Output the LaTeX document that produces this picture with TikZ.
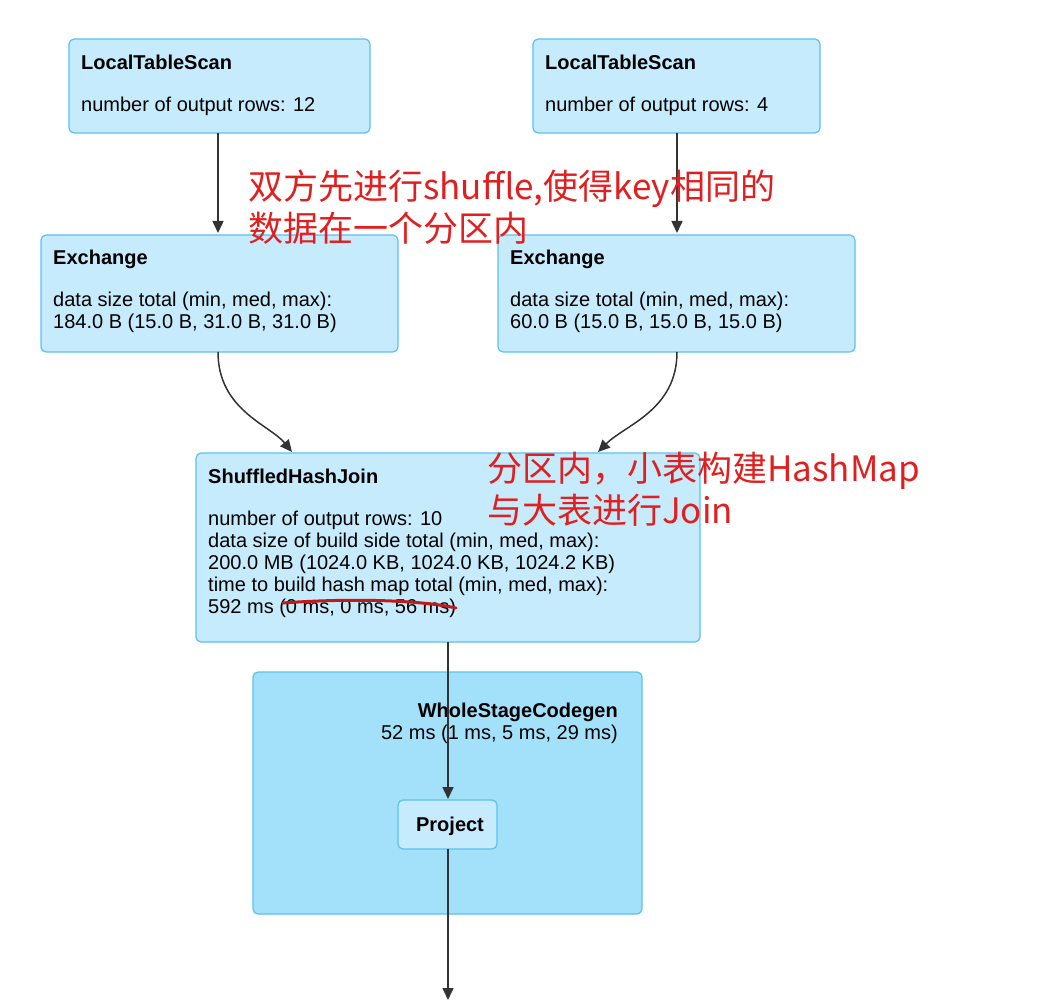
\documentclass[tikz,border=0pt]{standalone}
\usepackage{fontspec}
\setmainfont{Liberation Sans}
\newfontfamily\cjk{Noto Sans CJK SC}
\usetikzlibrary{arrows.meta}
\definecolor{boxfill}{HTML}{C5EBFC}
\definecolor{boxline}{HTML}{5BC1F2}
\definecolor{clusterfill}{HTML}{A3E0FA}
\definecolor{annot}{HTML}{E02020}
\tikzset{
  x=1pt,y=-1pt,
  opbox/.style={draw=boxline,fill=boxfill,rounded corners=5pt,line width=1.2pt},
  conn/.style={draw=black!80,line width=1.5pt,-{Triangle[length=12pt,width=11pt]}},
  txt/.style={anchor=north west,inner sep=0pt,align=left,font=\fontsize{20}{22}\selectfont},
  note/.style={anchor=west,inner sep=0pt,text=annot,align=left,font=\cjk\fontsize{35}{42}\selectfont}
}
\begin{document}
\begin{tikzpicture}
\useasboundingbox (0,0) rectangle (1042,1000);
% cluster
\draw[draw=boxline,fill=clusterfill,rounded corners=5pt,line width=1.2pt] (253,672) rectangle (642,914);
\node[anchor=north east,inner sep=0pt,align=right,font=\fontsize{20}{22}\selectfont] (wsc) at (618,703) {\textbf{WholeStageCodegen}\\52 ms (1 ms, 5 ms, 29 ms)};
% boxes
\draw[opbox] (69,39) rectangle (370,133); \coordinate (l1t) at (218,133);
\node[txt] (l1) at (81,55) {\textbf{LocalTableScan}\\[20pt]number of output rows: 12};
\draw[opbox] (533,39) rectangle (820,133); \coordinate (l2t) at (677,133);
\node[txt] (l2) at (545,55) {\textbf{LocalTableScan}\\[20pt]number of output rows: 4};
\draw[opbox] (41,235) rectangle (398,352);
\node[txt] (e1) at (53,250) {\textbf{Exchange}\\[20pt]data size total (min, med, max):\\184.0 B (15.0 B, 31.0 B, 31.0 B)};
\draw[opbox] (498,235) rectangle (855,352);
\node[txt] (e2) at (510,250) {\textbf{Exchange}\\[20pt]data size total (min, med, max):\\60.0 B (15.0 B, 15.0 B, 15.0 B)};
\draw[opbox] (196,453) rectangle (700,642);
\node[txt] (shj) at (208,469) {\textbf{ShuffledHashJoin}\\[20pt]number of output rows: 10\\data size of build side total (min, med, max):\\200.0 MB (1024.0 KB, 1024.0 KB, 1024.2 KB)\\time to build hash map total (min, med, max):\\592 ms (0 ms, 0 ms, 56 ms)};
\draw[opbox] (398,800) rectangle (497,849);
\node[inner sep=0pt,font=\bfseries\fontsize{20}{22}\selectfont] (proj) at (450,826) {Project};
% connectors
\coordinate (e1t) at (218,233); \coordinate (e2t) at (677,233);
\coordinate (e1b) at (218,352); \coordinate (e2b) at (677,352);
\coordinate (sj1) at (292,452); \coordinate (sj2) at (598,452);
\coordinate (sjb) at (448,642); \coordinate (pt) at (448,799);
\coordinate (pb) at (448,849); \coordinate (endp) at (448,1000);
\draw[conn] (l1t) -- (e1t);
\draw[conn] (l2t) -- (e2t);
\draw[conn] (e1b) .. controls (218,410) and (270,425) .. (sj1);
\draw[conn] (e2b) .. controls (677,410) and (625,425) .. (sj2);
\draw[conn] (sjb) -- (pt);
\draw[conn] (pb) -- (endp);
% annotations
\draw[annot!85!black,line width=3pt,line cap=round] (283,603) .. controls (350,598) and (420,600) .. (456,608);
\node[note] (n1) at (248,207) {双方先进行shuffle,使得key相同的\\数据在一个分区内};
\node[note] (n2) at (487,489) {分区内，小表构建HashMap\\与大表进行Join};
\end{tikzpicture}
\end{document}
